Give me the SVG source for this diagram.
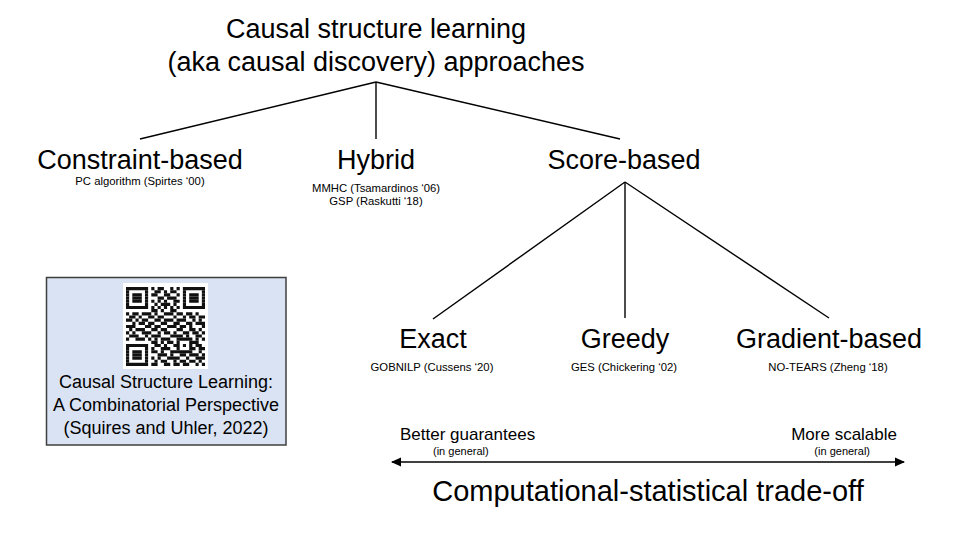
<svg xmlns="http://www.w3.org/2000/svg" width="960" height="540" viewBox="0 0 960 540">
  <style>
    text { font-family: "Liberation Sans", Arial, sans-serif; fill: #000; text-anchor: middle; }
    .title { font-size: 27px; }
    .main { font-size: 27px; }
    .sub { font-size: 11.3px; }
    .ref { font-size: 18px; }
    .side { font-size: 17px; }
    .note { font-size: 11px; }
    .big { font-size: 29px; }
    .edge { stroke: #000; stroke-width: 1.4; fill: none; }
    .qr line { stroke: #111; stroke-width: 1; }
  </style>
  <defs>
    <marker id="arr" viewBox="0 0 10 10" refX="9" refY="5" markerWidth="10" markerHeight="10" markerUnits="userSpaceOnUse" orient="auto-start-reverse">
      <path d="M0,0.5 L10,5 L0,9.5 Z" fill="#000"/>
    </marker>
  </defs>
  <rect width="960" height="540" fill="#fff"/>

  <g id="connectors">
    <line class="edge" x1="376" y1="82" x2="140" y2="139"/>
    <line class="edge" x1="376" y1="82" x2="376" y2="139"/>
    <line class="edge" x1="376" y1="82" x2="620" y2="139"/>
    <line class="edge" x1="625" y1="182" x2="433" y2="319"/>
    <line class="edge" x1="625" y1="182" x2="625" y2="318"/>
    <line class="edge" x1="625" y1="182" x2="829" y2="318"/>
    <line class="edge" x1="392" y1="462" x2="904" y2="462" marker-start="url(#arr)" marker-end="url(#arr)"/>
  </g>

  <g id="root">
    <text class="title" x="376" y="38">Causal structure learning</text>
    <text class="title" x="376" y="71">(aka causal discovery) approaches</text>
  </g>

  <g id="constraint">
    <text class="main" x="140" y="169">Constraint-based</text>
    <text class="sub" x="140" y="185">PC algorithm (Spirtes ‘00)</text>
  </g>

  <g id="hybrid">
    <text class="main" x="376" y="169">Hybrid</text>
    <text class="sub" x="376" y="192">MMHC (Tsamardinos ‘06)</text>
    <text class="sub" x="376" y="205">GSP (Raskutti ‘18)</text>
  </g>

  <g id="score">
    <text class="main" x="624" y="169">Score-based</text>
  </g>

  <g id="exact">
    <text class="main" x="433" y="348">Exact</text>
    <text class="sub" x="432" y="371">GOBNILP (Cussens ‘20)</text>
  </g>

  <g id="greedy">
    <text class="main" x="625" y="348">Greedy</text>
    <text class="sub" x="624" y="371">GES (Chickering ‘02)</text>
  </g>

  <g id="gradient">
    <text class="main" x="829" y="348">Gradient-based</text>
    <text class="sub" x="828" y="371">NO-TEARS (Zheng ‘18)</text>
  </g>

  <g id="reference">
    <rect x="46.5" y="277.5" width="239.5" height="167.5" fill="#dae3f3" stroke="#3f3f3f" stroke-width="1.5"/>
    <rect x="123" y="283" width="85" height="86" fill="#fff"/>
    <g class="qr" transform="translate(126,287) scale(3.16)">
      <line x1="0" y1="0.5" x2="25" y2="0.5" stroke-dasharray="7 1 1 1 2 2 1 1 1 1 7"/>
      <line x1="0" y1="1.5" x2="25" y2="1.5" stroke-dasharray="1 5 1 2 2 1 1 1 2 2 1 5 1"/>
      <line x1="0" y1="2.5" x2="25" y2="2.5" stroke-dasharray="1 1 3 1 1 1 2 2 2 2 1 1 1 1 3 1 1"/>
      <line x1="0" y1="3.5" x2="25" y2="3.5" stroke-dasharray="1 1 3 1 1 3 2 1 3 2 1 1 3 1 1"/>
      <line x1="0" y1="4.5" x2="25" y2="4.5" stroke-dasharray="1 1 3 1 1 1 1 1 1 1 1 2 2 1 1 1 3 1 1"/>
      <line x1="0" y1="5.5" x2="25" y2="5.5" stroke-dasharray="1 5 1 2 1 1 3 1 1 2 1 5 1"/>
      <line x1="0" y1="6.5" x2="25" y2="6.5" stroke-dasharray="7 1 1 1 1 1 1 1 1 1 1 1 7"/>
      <line x1="0" y1="7.5" x2="25" y2="7.5" stroke-dasharray="0 8 2 1 1 2 2 9"/>
      <line x1="0" y1="8.5" x2="25" y2="8.5" stroke-dasharray="1 1 2 1 3 1 1 2 3 1 2 1 2 1 1 2"/>
      <line x1="0" y1="9.5" x2="25" y2="9.5" stroke-dasharray="0 1 2 1 1 2 2 1 2 3 1 2 1 1 2 1 2"/>
      <line x1="0" y1="10.5" x2="25" y2="10.5" stroke-dasharray="2 1 1 1 2 2 2 1 3 1 3 2 1 1 1 1"/>
      <line x1="0" y1="11.5" x2="25" y2="11.5" stroke-dasharray="0 2 1 1 2 1 2 2 2 2 2 2 2 1 3"/>
      <line x1="0" y1="12.5" x2="25" y2="12.5" stroke-dasharray="3 3 2 1 2 2 3 1 2 1 1 3 1"/>
      <line x1="0" y1="13.5" x2="25" y2="13.5" stroke-dasharray="0 1 1 1 3 2 2 1 2 3 2 2 2 1 1 1"/>
      <line x1="0" y1="14.5" x2="25" y2="14.5" stroke-dasharray="1 1 1 2 3 2 1 1 2 1 1 2 2 1 2 1 1"/>
      <line x1="0" y1="15.5" x2="25" y2="15.5" stroke-dasharray="0 1 3 2 1 1 3 3 4 1 1 2 2 1"/>
      <line x1="0" y1="16.5" x2="25" y2="16.5" stroke-dasharray="1 2 3 1 1 1 1 1 3 2 5 1 1 1 1"/>
      <line x1="0" y1="17.5" x2="25" y2="17.5" stroke-dasharray="0 8 2 1 1 1 2 1 1 3 3 2"/>
      <line x1="0" y1="18.5" x2="25" y2="18.5" stroke-dasharray="7 2 2 1 1 2 2 1 1 1 1 1 2 1"/>
      <line x1="0" y1="19.5" x2="25" y2="19.5" stroke-dasharray="1 5 1 1 1 2 3 2 1 3 2 1 2"/>
      <line x1="0" y1="20.5" x2="25" y2="20.5" stroke-dasharray="1 1 3 1 1 1 2 1 1 2 7 2 1 1"/>
      <line x1="0" y1="21.5" x2="25" y2="21.5" stroke-dasharray="1 1 3 1 1 3 3 1 1 2 2 1 3 1 1"/>
      <line x1="0" y1="22.5" x2="25" y2="22.5" stroke-dasharray="1 1 3 1 1 1 1 1 1 2 4 2 1 2 3"/>
      <line x1="0" y1="23.5" x2="25" y2="23.5" stroke-dasharray="1 5 1 2 1 1 2 2 1 1 2 1 2 1 1 1"/>
      <line x1="0" y1="24.5" x2="25" y2="24.5" stroke-dasharray="7 1 2 2 2 1 2 1 2 2 1 1 1"/>
    </g>
    <text class="ref" x="166" y="388">Causal Structure Learning:</text>
    <text class="ref" x="166" y="411">A Combinatorial Perspective</text>
    <text class="ref" x="166" y="434">(Squires and Uhler, 2022)</text>
  </g>

  <g id="tradeoff">
    <text class="side" x="400" y="440" style="text-anchor:start">Better guarantees</text>
    <text class="note" x="433" y="455" style="text-anchor:start">(in general)</text>
    <text class="side" x="897" y="440" style="text-anchor:end">More scalable</text>
    <text class="note" x="870" y="455" style="text-anchor:end">(in general)</text>
    <text class="big" x="648" y="501">Computational-statistical trade-off</text>
  </g>
</svg>
